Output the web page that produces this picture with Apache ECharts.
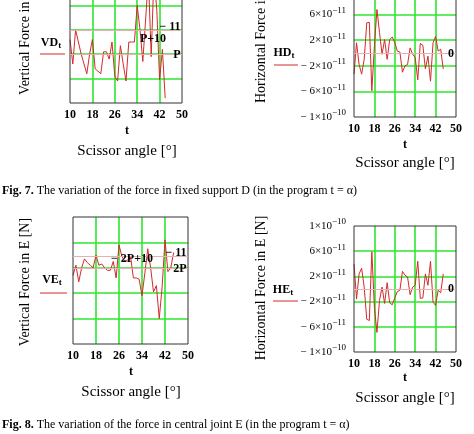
<!DOCTYPE html>
<html><head><meta charset="utf-8">
<script src="https://cdn.jsdelivr.net/npm/echarts@6/dist/echarts.min.js"></script>
<style>html,body{margin:0;padding:0;background:#fff}#c{width:474px;height:434px}</style>
</head><body><div id="c"></div>
<script>
// t = scissor angle, 10..44 / 10..45
var tVD = [10,11,12,13,14,15,16,17,18,19,20,21,22,23,24,25,26,27,28,29,30,31,32,33,34,35,36,37,38,39,40,41,42,43,44];
var vd = [2.6,1.6,3.0,2.5,2.0,1.6,1.2,2.0,2.6,1.4,1.3,1.2,2.1,2.1,1.8,2.5,1.1,0.9,2.35,1.6,0.9,2.5,2.5,2.5,4.0,3.0,1.7,3.4,5.2,1.9,5.3,3.8,0.95,2.2,0.2];
var tH = [10,11,12,13,14,15,16,17,18,19,20,21,22,23,24,25,26,27,28,29,30,31,32,33,34,35,36,37,38,39,40,41,42,43,44,45];
// horizontal forces in units of 1e-11 N
var hd = [-3.3,1.6,-1.8,-3.3,-1.0,4.7,4.8,-5.9,1.1,6.8,3.2,-0.2,2.1,-1.0,2.1,2.5,1.6,0.3,0.15,-3.0,-2.0,-1.8,0.8,-0.2,-0.7,-4.2,1.5,1.2,-2.5,-0.5,-4.4,1.6,2.6,0.3,0.6,-2.5];
var ve = [2.7,3.1,2.45,3.0,3.35,3.2,3.1,3.0,3.5,3.1,3.15,3.0,2.9,2.9,3.25,2.6,3.9,3.45,3.25,3.3,3.45,2.6,2.6,2.55,1.9,2.8,3.75,3.0,2.05,2.3,1.0,2.25,4.1,2.85,3.0,3.6];
var he = [4.0,-1.6,2.4,3.3,0.3,-4.8,-5.0,5.9,-2.9,-6.9,-1.8,0.3,-2.3,1.0,-2.2,-2.5,-1.4,-0.4,-0.2,2.8,2.2,1.9,-0.9,0.3,0.6,4.4,-1.5,-1.4,2.4,0.6,4.4,-2.1,-2.6,-0.2,-0.6,2.4];
var hTicks = {'-10':'− 1×10{s|−10}','-6':'− 6×10{s|−11}','-2':'− 2×10{s|−11}','2':'2×10{s|−11}','6':'6×10{s|−11}','10':'1×10{s|−10}'};

var SERIF = 'Liberation Serif';
var RED = '#d42a2a', GREEN = '#2ee62e';
function zip(xs, ys){ return xs.map(function(x,i){ return [x, ys[i]]; }); }

var grids = [
  {left:70, top:-19, width:112, height:122},
  {left:354, top:-11, width:102, height:128},
  {left:73, top:217, width:115, height:127},
  {left:354, top:226, width:102, height:126}
].map(function(g){ return Object.assign({show:true, borderColor:'#333', borderWidth:1, z:5,
  backgroundColor:'transparent', containLabel:false, outerBoundsMode:'none'}, g); });

var xAxis = grids.map(function(g,i){ return {
  type:'value', gridIndex:i, min:10, max:50, interval:8,
  axisLine:{show:false}, axisTick:{show:false},
  splitLine:{show:true, showMinLine:false, showMaxLine:false, lineStyle:{color:GREEN, width:1.6}},
  axisLabel:{color:'#000', fontFamily:SERIF, fontWeight:'bold', fontSize:12, margin:6}
};});
var yAxis = [0,1,2,3].map(function(i){
  var h = (i===1||i===3);
  return {
    type:'value', gridIndex:i,
    min: h ? -10 : 0, max: h ? 10 : 5, interval: h ? 4 : 1,
    axisLine:{show:false}, axisTick:{show:false},
    splitLine:{show:true, showMinLine:false, showMaxLine:false, lineStyle:{color:GREEN, width:1.6}},
    axisLabel:{show:h, color:'#000', fontFamily:SERIF, fontSize:11, margin:8,
      formatter:function(v){ return hTicks[String(Math.round(v))] || ''; },
      rich:{s:{fontSize:9, fontFamily:SERIF, color:'#000', verticalAlign:'top', padding:[0,0,8,0]}}}
  };
});

function ser(i, xs, ys, marks){
  return {type:'line', xAxisIndex:i, yAxisIndex:i, data:zip(xs, ys), symbol:'none',
    lineStyle:{color:RED, width:1}, z:3,
    markLine:{silent:true, symbol:'none', label:{show:false},
      lineStyle:{color:'#e8b0b0', type:'solid', width:1},
      data: marks.map(function(m){ return {yAxis:m}; })}};
}

var RICH = {
  sub:{fontSize:9, fontWeight:'bold', fontFamily:SERIF, verticalAlign:'bottom', padding:[6,0,0,0]},
  a:{fontWeight:'bold', fontFamily:SERIF, fontSize:12},
  b:{fontWeight:'bold', fontFamily:SERIF, fontSize:12}
};
function txt(x, y, s, o){ return {type:'text', x:x, y:y, z:10,
  style:{text:s, fill:'#000', font:(o&&o.font)||('13px '+SERIF), align:(o&&o.align)||'center', verticalAlign:'middle', rich:RICH}}; }
function rot(x, y, s){ return {type:'text', x:x, y:y, rotation:Math.PI/2,
  style:{text:s, fill:'#000', font:'14px '+SERIF, align:'center', verticalAlign:'middle'}}; }
function legLine(x1, x2, y){ return {type:'line', shape:{x1:x1, y1:y, x2:x2, y2:y}, style:{stroke:RED, lineWidth:1}}; }

var B = 'bold 12px '+SERIF;
var graphic = [
  rot(25, 30, 'Vertical Force in D [N]'),
  txt(51, 43, '{a|VD}{sub|t}', {font:B}),
  legLine(40, 65, 54),
  txt(170, 27, '− 11', {font:B}),
  txt(153, 39, 'P+10', {font:B}),
  txt(177, 55, 'P', {font:B}),
  txt(127, 131, 't', {font:B}),
  txt(127, 151, 'Scissor angle [°]', {font:'15px '+SERIF}),

  rot(261, 30, 'Horizontal Force in D [N]'),
  txt(284, 53, '{a|HD}{sub|t}', {font:B}),
  legLine(274, 298, 65),
  txt(451, 54, '0', {font:B}),
  txt(405, 145, 't', {font:B}),
  txt(405, 163, 'Scissor angle [°]', {font:'15px '+SERIF}),

  txt(2, 191, '{b|Fig. 7.} The variation of the force in fixed support D (in the program t = α)',
    {align:'left', font:'12px '+SERIF}),

  rot(25, 282, 'Vertical Force in E [N]'),
  txt(52, 280, '{a|VE}{sub|t}', {font:B}),
  legLine(40, 67, 293),
  txt(132, 259, '− 2P+10', {font:B}),
  txt(176, 253, '− 11', {font:B}),
  txt(180, 269, '2P', {font:B}),
  txt(131, 372, 't', {font:B}),
  txt(131, 392, 'Scissor angle [°]', {font:'15px '+SERIF}),

  rot(261, 288, 'Horizontal Force in E [N]'),
  txt(283, 290, '{a|HE}{sub|t}', {font:B}),
  legLine(273, 298, 301),
  txt(451, 289, '0', {font:B}),
  txt(405, 378, 't', {font:B}),
  txt(405, 398, 'Scissor angle [°]', {font:'15px '+SERIF}),

  txt(2, 425, '{b|Fig. 8.} The variation of the force in central joint E (in the program t = α)',
    {align:'left', font:'12px '+SERIF})
];

var chart = echarts.init(document.getElementById('c'), null, {renderer:'canvas'});
chart.setOption({
  animation:false,
  backgroundColor:'#fff',
  grid: grids, xAxis: xAxis, yAxis: yAxis,
  series: [ser(0, tVD, vd, [2,3]), ser(1, tH, hd, [0]), ser(2, tH, ve, [3,3.47]), ser(3, tH, he, [0])],
  graphic: graphic
});
</script></body></html>
